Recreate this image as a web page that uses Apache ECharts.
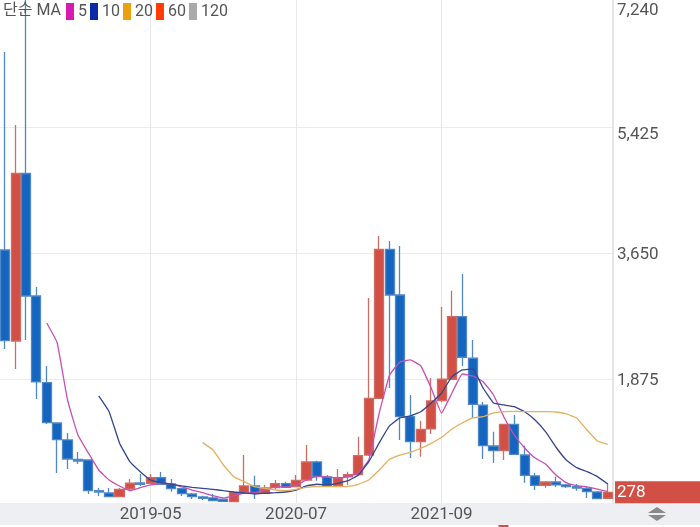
<!DOCTYPE html>
<html>
<head>
<meta charset="utf-8">
<style>html,body{margin:0;padding:0;background:#fff}#main{width:700px;height:527px}</style>
<script src="https://cdn.jsdelivr.net/npm/echarts@6/dist/echarts.min.js"></script>
</head>
<body>
<div id="main"></div>
<script>
var months = ['2018-03','2018-04','2018-05','2018-06','2018-07','2018-08','2018-09','2018-10','2018-11','2018-12',
  '2019-01','2019-02','2019-03','2019-04','2019-05','2019-06','2019-07','2019-08','2019-09','2019-10','2019-11','2019-12',
  '2020-01','2020-02','2020-03','2020-04','2020-05','2020-06','2020-07','2020-08','2020-09','2020-10','2020-11','2020-12',
  '2021-01','2021-02','2021-03','2021-04','2021-05','2021-06','2021-07','2021-08','2021-09','2021-10','2021-11','2021-12',
  '2022-01','2022-02','2022-03','2022-04','2022-05','2022-06','2022-07','2022-08','2022-09','2022-10','2022-11','2022-12','2023-01'];

// open, close, low, high
var candles = [
  [3692,2415,2298,6481],[2410,4770,2016,5453],[4770,3044,2424,7240],[3044,1833,1593,3171],[1823,1259,1241,2058],
  [1255,1020,551,1255],[1016,748,607,1114],[741,720,678,847],[734,301,255,734],[301,283,227,339],
  [269,217,213,339],[217,321,213,339],[325,406,311,466],[410,389,368,537],[406,485,396,537],
  [485,392,382,565],[396,330,287,466],[330,259,227,339],[255,217,185,269],[213,192,171,231],
  [199,163,161,255],[181,152,142,185],[147,273,142,297],[279,368,269,805],[368,265,185,513],
  [265,339,255,382],[344,400,325,452],[400,349,339,428],[358,448,354,523],[452,706,438,945],
  [706,504,442,724],[495,372,354,523],[372,485,354,607],[495,527,382,569],[527,795,509,1062],
  [804,1603,790,3016],[1603,3702,1593,3889],[3702,3058,1748,3819],[3058,1344,1016,3749],[1344,992,762,1650],
  [992,1166,781,1288],[1171,1565,1100,1889],[1569,1871,1551,2889],[1871,2753,1861,3119],[2753,2181,2058,3354],
  [2167,1516,1326,2424],[1505,936,748,1551],[931,865,692,1133],[865,1237,734,1241],[1237,814,804,1368],
  [804,518,414,935],[509,377,311,555],[377,424,344,438],[424,382,354,499],[382,358,339,396],
  [358,339,301,396],[335,287,199,354],[283,189,185,297],[194,278,185,410]
];

var ma5 = [2664,2386,1579,1086,833,593,452,368,301,344,382,406,396,354,311,273,231,199,231,269,269,311,354,354,382,452,499,495,480,499,551,734,1396,1931,2115,2143,2058,1748,1396,1678,1945,1917,1837,1650,1340,1086,903,762,678,523,414,372,354,325,287];
var ma10 = [1636,1414,974,710,569,452,414,392,368,349,335,321,301,283,269,255,265,273,283,311,368,392,382,406,442,523,710,974,1217,1326,1354,1414,1537,1678,1908,2002,2016,1748,1537,1509,1485,1414,1297,1133,917,734,626,569,499,396];
var ma20 = [978,875,663,499,428,358,335,311,301,321,349,358,358,358,363,392,452,593,744,804,842,899,969,1054,1171,1255,1326,1344,1396,1414,1420,1414,1414,1414,1410,1382,1326,1157,1002,955];

var gridTicks = [1875,3650,5425];
// the app nudges its labels a little below the lines
var labelSpots = [1847,3622,5312,7059];
var tickLabels = ['1,875','3,650','5,425','7,240'];
var monthTicks = ['2019-05','2020-07','2021-09'];
var lastPrice = 278;

var FONT = 'Roboto, "Noto Sans CJK KR", sans-serif';

function padLeft(arr) {
  var out = [];
  for (var i = 0; i < months.length - arr.length; i++) {
    out.push(null);
  }
  return out.concat(arr);
}

function maSeries(name, color, lineColor, values) {
  return {
    name: name,
    type: 'line',
    data: padLeft(values),
    smooth: 0.1,
    showSymbol: false,
    silent: true,
    itemStyle: { color: color },
    lineStyle: { color: lineColor, width: 1.3 }
  };
}

var chart = echarts.init(document.getElementById('main'));

var option = {
  animation: false,
  backgroundColor: '#fff',
  textStyle: { fontFamily: FONT },
  title: {
    text: '단순 MA',
    left: 3,
    top: 3,
    padding: 0,
    textStyle: { fontFamily: FONT, fontSize: 16, fontWeight: 'normal', color: '#555' }
  },
  legend: {
    left: 66,
    top: 3,
    padding: 0,
    itemWidth: 8,
    itemHeight: 17,
    itemGap: 3,
    icon: 'rect',
    selectedMode: false,
    data: ['5','10','20','60','120'],
    textStyle: { fontFamily: FONT, fontSize: 16, color: '#555', padding: [0,0,0,-1] }
  },
  grid: { left: 0, top: 0, width: 613, height: 503 },
  xAxis: {
    type: 'category',
    data: months,
    boundaryGap: true,
    axisLine: { show: false },
    axisTick: { show: false, alignWithLabel: true },
    axisLabel: {
      color: '#555',
      fontSize: 17,
      fontFamily: FONT,
      margin: 3,
      interval: function (i, v) { return monthTicks.indexOf(v) >= 0; }
    },
    splitLine: {
      show: true,
      alignWithLabel: true,
      interval: function (i, v) { return monthTicks.indexOf(v) >= 0; },
      lineStyle: { color: '#e8e8ea', width: 1 }
    }
  },
  yAxis: {
    type: 'value',
    position: 'right',
    min: 128,
    max: 7214,
    axisLine: { show: true, lineStyle: { color: '#dcdcdc', width: 1.5 } },
    axisTick: { show: false, customValues: gridTicks },
    axisLabel: {
      color: '#555',
      fontSize: 17,
      fontFamily: FONT,
      margin: 4,
      customValues: labelSpots,
      formatter: function (v) { return tickLabels[labelSpots.indexOf(v)]; }
    },
    splitLine: { show: true, lineStyle: { color: '#ececee', width: 1 } }
  },
  series: [
    {
      name: 'candle',
      type: 'candlestick',
      data: candles,
      barWidth: 9.6,
      silent: true,
      itemStyle: {
        color: '#d24f45',
        color0: '#1565c0',
        borderColor: '#cf6d63',
        borderColor0: '#4f88c6',
        borderWidth: 1.3
      },
      markLine: {
        silent: true,
        symbol: 'none',
        animation: false,
        lineStyle: { color: 'transparent', width: 0 },
        data: [{ yAxis: lastPrice }],
        label: {
          show: true,
          opacity: 1,
          position: 'end',
          distance: 2,
          formatter: String(lastPrice),
          color: '#fff',
          fontSize: 17,
          fontFamily: FONT,
          backgroundColor: '#d24f45',
          width: 83,
          height: 22,
          lineHeight: 22,
          padding: [0, 0, 0, 2],
          align: 'left'
        }
      }
    },
    maSeries('5', '#d81bb0', '#c850b4', ma5),
    maSeries('10', '#0a2aa8', '#33468f', ma10),
    maSeries('20', '#eba010', '#e2b15f', ma20),
    maSeries('60', '#ff3d00', '#ff3d00', []),
    maSeries('120', '#aaaaaa', '#aaaaaa', [])
  ],
  graphic: [
    { type: 'rect', z: -10, silent: true, shape: { x: 0, y: 503, width: 700, height: 22 }, style: { fill: '#eeeff2' } },
    { type: 'rect', z: 5, silent: true, shape: { x: 498.5, y: 525, width: 10, height: 2 }, style: { fill: '#d24f45' } },
    { type: 'polygon', z: 5, silent: true, shape: { points: [[648,513],[666,513],[657,507]] }, style: { fill: '#8a8a8a' } },
    { type: 'polygon', z: 5, silent: true, shape: { points: [[648,515],[666,515],[657,521]] }, style: { fill: '#8a8a8a' } }
  ]
};

chart.setOption(option);
</script>
</body>
</html>
